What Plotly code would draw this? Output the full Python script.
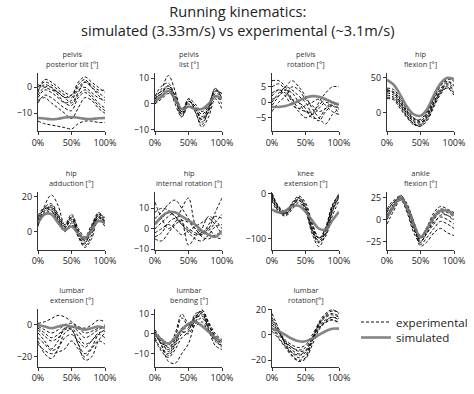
import plotly.graph_objects as go

W, H = 474, 394
pct = [0, 10, 20, 30, 40, 50, 60, 70, 80, 90, 100]

titles = ["pelvis<br>posterior tilt [°]", "pelvis<br>list [°]", "pelvis<br>rotation [°]", "hip<br>flexion [°]",
          "hip<br>adduction [°]", "hip<br>internal rotation [°]", "knee<br>extension [°]", "ankle<br>flexion [°]",
          "lumbar<br>extension [°]", "lumbar<br>bending [°]", "lumbar<br>rotation[°]"]

yticks = [[0, -10], [10, 0, -10], [5, 0, -5], [50, 0],
          [20, 0], [10, 0, -10], [0, -100], [25, 0, -25],
          [0, -20], [10, 0, -10], [20, 0, -20]]
yranges = [[-16.8, 5.5], [-10.5, 12], [-9.3, 9.5], [-27, 57],
           [-10.2, 23], [-10.2, 18.2], [-124.8, 5.2], [-34, 32],
           [-26, 10.3], [-16.6, 12.8], [-25, 21]]

# simulated curves
sim_pelvis_tilt = [-11.8, -12, -12.3, -12.1, -11.6, -11.4, -11.7, -12.1, -12.2, -11.9, -11.8]
sim_pelvis_list = [1, 3, 5, 2, -2, -1, -2, -2, 0, 3, 2]
sim_pelvis_rot = [-1.5, -1.5, -1.2, -0.5, 0.5, 1.5, 2, 1.8, 1, 0, -0.8]
sim_hip_flex = [47, 40, 25, 8, -3, -5, 5, 25, 42, 50, 48]
sim_hip_add = [5, 10, 10, 5, 1, 3, -1, -4, 1, 6, 5]
sim_hip_rot = [2, 6, 8, 8, 6, 4, 2, -1, -3, -4, -1]
sim_knee = [-35, -42, -38, -28, -27, -40, -60, -78, -80, -60, -40]
sim_ankle = [2, 15, 25, 14, -5, -20, -10, 3, 10, 10, 5]
sim_lumbar_ext = [0, -1, -2, -1, 0, -1, -2, -3, -2, -1, -2]
sim_lumbar_bend = [0, -3, -5, -2, 2, 5, 6, 4, 1, -2, -4]
sim_lumbar_rot = [5, 3, 0, -3, -5, -5, -3, 0, 3, 5, 5]

# experimental curves
exp_pelvis_tilt = [
    [0, 2, 1, -1, -3, -4, 1, 3, 0, -2, -4],
    [-2, 3, 2, 0, -2, -3, 2, 4, 2, 0, -2],
    [-4, -1, -2, -4, -6, -5, -1, 0, -2, -4, -5],
    [-1, 1, 0, -2, -4, -6, -2, 2, 0, -3, -6],
    [-6, -3, -4, -6, -8, -9, -4, -2, -4, -7, -9],
    [-3, 0, 0, -3, -6, -7, -3, -1, -3, -6, -8],
    [-5, -4, -6, -8, -10, -12, -8, -4, -5, -8, -10],
    [-13, -14, -14.5, -15, -15.5, -16, -14, -13, -13, -13.5, -13.5],
    [1, 0, -1, -2, -4, -3, 0, 2, 1, -1, -1],
]
exp_pelvis_list = [
    [2, 6, 11, 5, -4, 2, -3, -8, -2, 6, 2],
    [0, 4, 7, 3, -3, 1, -2, -6, -3, 4, 3],
    [3, 5, 6, 2, -5, 1, -1, -4, -1, 3, 0],
    [1, 3, 5, 1, -3, 2, 0, -3, 0, 5, 4],
    [2, 4, 6, 4, -2, 0, -3, -9, -5, 2, -2],
    [0, 2, 4, 2, -4, -1, -2, -5, -2, 3, 1],
    [3, 7, 8, 3, -2, 1, -1, -7, -3, 5, 4],
    [1, 5, 7, 0, -5, -1, -2, -6, -1, 6, 2],
]
exp_pelvis_rot = [
    [5, 6, 4, 0, -3, -5, -4, 0, 3, 5, 5],
    [7, 7, 5, 1, -2, -3, -4, -2, 0, -1, -2],
    [0, 3, 5, 7, 5, 2, -2, -5, -7, -4, -2],
    [2, 4, 3, 1, 0, -2, -5, -5, -2, 0, -1],
    [-3, 0, 2, 5, 4, 1, -1, -3, -2, -1, -4],
    [3, 4, 2, -1, -2, -1, 0, 1, -1, -3, -4],
    [1, 2, 4, 3, 0, -3, -3, -1, 1, 0, -2],
    [-1, 2, 5, 4, 2, 0, -4, -6, -3, -1, 0],
]
exp_hip_flex = [
    [30, 28, 15, 0, -12, -15, -5, 15, 32, 42, 35],
    [25, 22, 10, -5, -17, -20, -10, 10, 28, 38, 30],
    [35, 33, 20, 5, -8, -12, -2, 20, 38, 48, 45],
    [20, 18, 5, -8, -18, -18, -5, 15, 30, 35, 25],
    [28, 25, 12, -2, -14, -17, -8, 12, 30, 40, 32],
    [32, 30, 18, 2, -10, -13, 0, 22, 40, 45, 40],
    [22, 20, 8, -6, -16, -20, -12, 8, 26, 36, 28],
    [33, 28, 14, 0, -9, -10, 2, 20, 34, 44, 38],
]
exp_hip_add = [
    [3, 15, 21, 15, 4, 8, -2, -8, -2, 10, 6],
    [6, 12, 14, 8, 2, 9, 1, -5, 2, 11, 7],
    [8, 13, 14, 9, 3, 6, 0, -6, 0, 8, 4],
    [4, 10, 12, 6, 0, 5, -2, -7, 3, 9, 5],
    [7, 14, 16, 10, 4, 10, 2, -3, 4, 10, 8],
    [5, 11, 13, 7, 1, 4, -3, -9, -4, 7, 3],
    [9, 14, 12, 6, 2, 7, -1, -5, 1, 8, 6],
    [6, 12, 15, 9, 3, 8, 0, -4, 2, 9, 5],
]
exp_hip_rot = [
    [13, 5, 0, 3, 10, 15, 2, -2, 0, 8, 15],
    [5, 8, 12, 14, 10, 5, 0, -3, -1, 3, 7],
    [-4, -2, 3, 5, 2, -2, -5, -6, -3, 1, 2],
    [0, 3, 6, 8, 4, -8, -4, 0, 6, 4, 0],
    [-5, -6, -2, 2, 4, 3, 0, -4, -5, -3, -2],
    [3, 5, 8, 6, 3, 0, -2, -3, 2, 6, 5],
    [8, 10, 9, 6, 2, -1, -3, -2, 0, -4, -5],
    [-2, 0, 2, 0, -3, -1, 1, 3, 5, 2, -3],
]
exp_knee = [
    [0, -30, -45, -25, -10, -30, -80, -105, -80, -30, 0],
    [-5, -35, -48, -30, -15, -35, -85, -110, -85, -35, -5],
    [-10, -38, -42, -22, -8, -25, -70, -100, -75, -25, -2],
    [2, -28, -40, -20, -5, -20, -65, -98, -90, -40, -8],
    [-8, -40, -50, -35, -20, -40, -90, -118, -90, -40, -5],
    [-3, -32, -45, -28, -12, -30, -75, -100, -78, -28, 0],
    [-15, -42, -44, -25, -15, -35, -80, -108, -95, -50, -15],
]
exp_ankle = [
    [10, 20, 25, 12, -10, -25, -15, -5, 5, 5, 0],
    [5, 18, 28, 15, -8, -22, -10, 5, 12, 10, 5],
    [0, 15, 27, 18, -5, -28, -20, -10, -2, -5, -10],
    [8, 20, 24, 10, -12, -20, -8, 8, 15, 12, 8],
    [-5, 10, 22, 15, -2, -30, -25, -15, -10, -15, -18],
    [3, 17, 26, 14, -6, -24, -15, 0, 8, 5, -2],
    [12, 22, 23, 8, -15, -26, -12, 2, 10, 8, 3],
    [2, 14, 25, 16, -3, -18, -12, -3, 3, 0, -5],
]
exp_lumbar_ext = [
    [1, 2, 4, 6, 5, 2, -1, -2, 0, 3, 2],
    [-5, -10, -15, -10, -2, -3, -12, -18, -14, -6, -3],
    [-10, -18, -21, -15, -5, -3, -12, -22, -20, -10, -5],
    [-2, -5, -8, -6, -2, -1, -4, -8, -6, -3, -1],
    [-8, -12, -16, -14, -8, -6, -10, -14, -10, -5, -4],
    [-3, -7, -10, -8, -3, -2, -7, -12, -10, -6, -8],
    [-12, -16, -18, -17, -15, -10, -15, -20, -15, -10, -12],
    [-1, -3, -5, -3, 0, 1, -2, -5, -4, -2, 0],
]
exp_lumbar_bend = [
    [0, -5, -8, -2, 8, 4, 6, 11, 5, -2, -5],
    [-2, -8, -10, -5, 2, 3, 9, 10, 3, -3, -7],
    [1, -6, -14, -15, -10, -5, 5, 8, 2, -4, -6],
    [-1, -4, -9, -4, 1, 0, 7, 12, 6, 0, -3],
    [2, -3, -7, -3, 3, 5, 8, 9, 4, -1, -4],
    [-3, -9, -12, -8, -2, 1, 10, 11, 2, -6, -8],
    [0, -5, -6, 0, 10, 5, 4, 6, 1, -3, -6],
    [1, -6, -11, -6, 0, 2, 8, 12, 5, -2, -5],
]
exp_lumbar_rot = [
    [17, 5, -8, -16, -20, -18, -5, 8, 16, 19, 18],
    [8, 2, -5, -10, -13, -12, -3, 7, 12, 14, 13],
    [12, 3, -7, -14, -18, -16, -4, 10, 17, 20, 17],
    [5, 0, -6, -10, -12, -10, -2, 6, 10, 12, 10],
    [10, 2, -6, -12, -15, -13, -3, 8, 14, 16, 14],
    [6, -2, -9, -14, -16, -14, -5, 5, 11, 14, 12],
    [14, 4, -4, -8, -10, -8, 0, 9, 15, 17, 15],
    [3, -3, -10, -17, -21, -19, -8, 4, 10, 12, 9],
]

sims = [sim_pelvis_tilt, sim_pelvis_list, sim_pelvis_rot, sim_hip_flex, sim_hip_add, sim_hip_rot,
        sim_knee, sim_ankle, sim_lumbar_ext, sim_lumbar_bend, sim_lumbar_rot]
exps = [exp_pelvis_tilt, exp_pelvis_list, exp_pelvis_rot, exp_hip_flex, exp_hip_add, exp_hip_rot,
        exp_knee, exp_ankle, exp_lumbar_ext, exp_lumbar_bend, exp_lumbar_rot]

# layout geometry (pixels)
col_x = [38, 155, 272, 387]
pw = 67
rows_y = [(73, 131), (191.5, 249.5), (308.5, 366.5)]

FONT = "Open Sans, Noto Sans, sans-serif"
fig = go.Figure()
annotations = []
layout = {}

for i in range(11):
    r, c = divmod(i, 4)
    n = i + 1
    xa = "x" if n == 1 else f"x{n}"
    ya = "y" if n == 1 else f"y{n}"
    for k, e in enumerate(exps[i]):
        fig.add_trace(go.Scatter(x=pct, y=e, mode="lines", xaxis=xa, yaxis=ya,
                                 line=dict(color="#111", width=1.0, dash="3px,2px", shape="spline"),
                                 name="experimental", legend="legend",
                                 showlegend=(i == 0 and k == 0)))
    fig.add_trace(go.Scatter(x=pct, y=sims[i], mode="lines", xaxis=xa, yaxis=ya,
                             line=dict(color="rgba(120,120,120,0.9)", width=2.6, shape="spline"),
                             name="simulated", legend="legend2", showlegend=(i == 0)))
    x0 = col_x[c]
    y0, y1 = rows_y[r]
    axstyle = dict(showline=True, linecolor="#333", linewidth=1.1, ticks="outside", ticklen=3,
                   tickcolor="#333", tickwidth=1, showgrid=False, zeroline=False, automargin=False,
                   tickfont=dict(family=FONT, size=9, color="#222"))
    layout["xaxis" if n == 1 else f"xaxis{n}"] = dict(
        domain=[x0 / W, (x0 + pw) / W], anchor=ya, range=[0, 100],
        tickvals=[0, 50, 100], ticktext=["0%", "50%", "100%"], **axstyle)
    layout["yaxis" if n == 1 else f"yaxis{n}"] = dict(
        domain=[1 - y1 / H, 1 - y0 / H], anchor=xa, range=yranges[i],
        tickvals=yticks[i], **axstyle)
    annotations.append(dict(text=titles[i], x=(x0 + pw / 2) / W, y=1 - (y0 - 1.5) / H,
                            xref="paper", yref="paper", xanchor="center", yanchor="bottom",
                            showarrow=False, font=dict(family=FONT, size=7.4, color="#333")))

annotations.append(dict(text="Running kinematics:<br>simulated (3.33m/s) vs experimental (~3.1m/s)",
                        x=0.5, y=1 + 1 / H, xref="paper", yref="paper", xanchor="center", yanchor="top",
                        showarrow=False, font=dict(family=FONT, size=14.6, color="#222")))

legstyle = dict(xanchor="left", yanchor="middle", font=dict(family=FONT, size=11.6, color="#222"),
                bgcolor="rgba(0,0,0,0)", borderwidth=0)
fig.update_layout(width=W, height=H, margin=dict(l=0, r=0, t=0, b=0, autoexpand=False),
                  template="none",
                  plot_bgcolor="white", paper_bgcolor="white",
                  annotations=annotations,
                  legend=dict(x=356 / W, y=1 - 322 / H, **legstyle),
                  legend2=dict(x=356 / W, y=1 - 337.5 / H, **legstyle),
                  **layout)

fig.write_html("out.html", config={"displayModeBar": False},
               post_script="document.body.style.margin='0px';")
